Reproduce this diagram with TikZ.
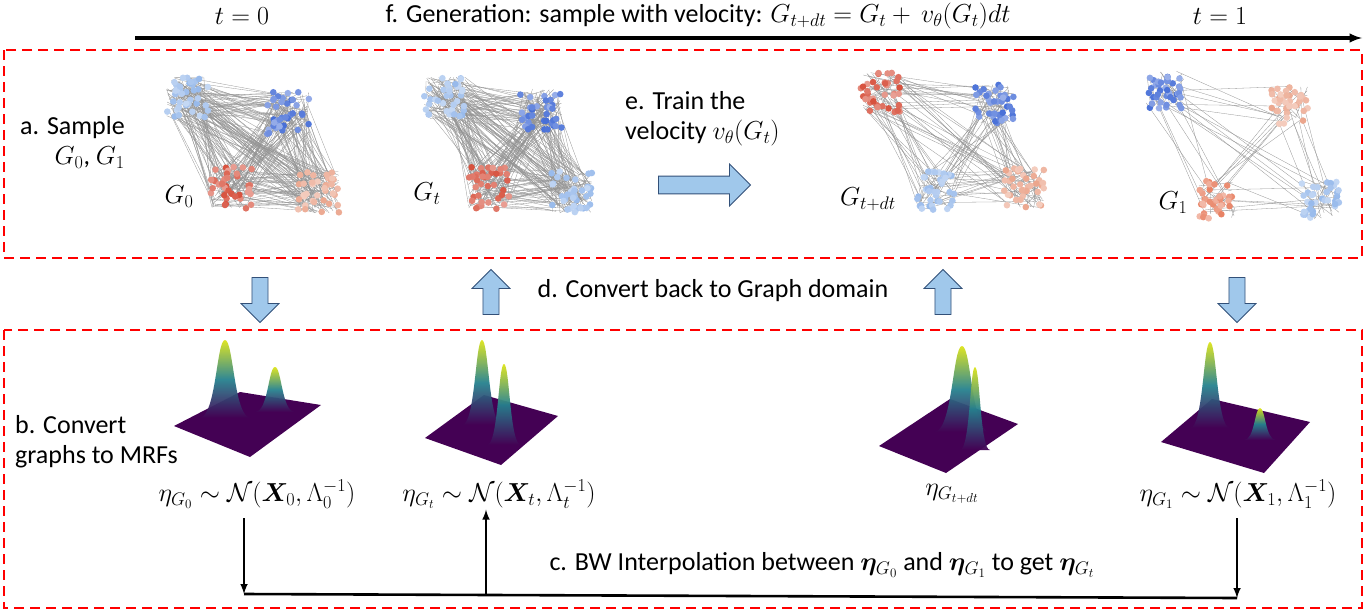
\RequirePackage{fix-cm}
\documentclass[tikz,border=0pt]{standalone}
\usepackage{fontspec}
\setmainfont{Carlito}
\usepackage{amsmath,bm}
\usetikzlibrary{shapes.arrows}
\definecolor{cblue}{RGB}{70,110,215}
\definecolor{lblue}{RGB}{150,185,235}
\definecolor{cred}{RGB}{215,80,60}
\definecolor{peach}{RGB}{235,165,140}
\definecolor{salmon}{RGB}{232,130,100}
\definecolor{arrfill}{RGB}{160,200,235}
\definecolor{arrdraw}{RGB}{50,80,120}
\definecolor{vpurple}{RGB}{68,1,84}
\definecolor{vteal}{RGB}{38,130,142}
\definecolor{vyellow}{RGB}{220,227,25}
\tikzset{
  edge/.style={gray!85, line width=0.3pt},
  redbox/.style={red, line width=1.8pt, dash pattern=on 10pt off 6pt},
  blk/.style={single arrow, draw=arrdraw, fill=arrfill, line width=0.8pt, minimum height=45pt, minimum width=38pt, single arrow head extend=6pt, inner sep=4pt},
  lab/.style={font=\fontsize{26}{30}\selectfont, inner sep=1pt},
  conn/.style={line width=2.4pt, -latex},
}
% #1 list of x/y/color, #2 edges per pair, #3 spread
\newcommand\mygraph[3]{%
  \foreach \ax/\ay/\ac in {#1}{
    \foreach \bx/\by/\bc in {#1}{
      \foreach \k in {1,...,#2}{
        \draw[edge] ({\ax+#3*rand},{\ay+#3*rand}) -- ({\bx+#3*rand},{\by+#3*rand});
      }}
    \foreach \k in {1,...,12}{
      \draw[edge] ({\ax+#3*rand},{\ay+#3*rand}) -- ({\ax+#3*rand},{\ay+#3*rand});}}
  \foreach \ax/\ay/\ac in {#1}{
    \foreach \k in {1,...,38}{
      \pgfmathtruncatemacro\pc{55+45*rnd}
      \fill[\ac!\pc!white] ({\ax+#3*rand},{\ay+#3*rand}) circle (3.3pt);
    }}}
\newcommand\peak[4]{% x, base y, height, half width
  \shade[top color=vyellow, bottom color=vpurple, middle color=vteal, opacity=0.95]
    ({#1-#4},#2) .. controls ({#1-#4/3},#2) and ({#1-#4/3},{#2-#3}) .. (#1,{#2-#3})
    .. controls ({#1+#4/3},{#2-#3}) and ({#1+#4/3},#2) .. ({#1+#4},#2) -- cycle;}
\begin{document}
\begin{tikzpicture}[x=1pt,y=-1pt]
\useasboundingbox (0,0) rectangle (1367,613);
\pgfmathsetseed{7}
% top arrow
\coordinate (ts) at (135,38); \coordinate (te) at (1362,38);
\draw[line width=3.2pt,-latex] (ts) -- (te);
\node[lab] (t0) at (242,16) {$t=0$};
\node[lab] (t1) at (1220,16) {$t=1$};
\node[lab] (f) at (698,16) {f. Generation: sample with velocity: $G_{t+dt}=G_t+\,v_\theta(G_t)dt$};
% boxes
\draw[redbox] (4,50) rectangle (1362,258);
\draw[redbox] (4,330) rectangle (1362,608);
% graphs
\mygraph{187/98/lblue, 288/113/cblue, 231/188/cred, 318/192/peach}{20}{21}
\mygraph{445/98/lblue, 541/110/cblue, 488/188/cred, 571/192/lblue}{20}{21}
\mygraph{880/92/cred, 994/104/cblue, 937/190/lblue, 1024/188/peach}{8}{20}
\mygraph{1165/90/cblue, 1289/105/peach, 1217/200/salmon, 1320/200/lblue}{3}{19}
\node[lab] (g0) at (179,197) {$G_0$};
\node[lab] (gt) at (427,194) {$G_t$};
\node[lab] (gtd) at (868,199) {$G_{t+dt}$};
\node[lab] (g1) at (1173,203) {$G_1$};
\node[lab,align=right,anchor=north east] (a) at (126,115) {a. Sample\\$G_0$, $G_1$};
\node[lab,align=left,anchor=north west] (e) at (624,90) {e. Train the\\velocity $v_\theta(G_t)$};
\node[blk, minimum height=92pt, minimum width=42pt] (bigarr) at (700,185) {};
% small block arrows
\node[blk, shape border rotate=270] (ad1) at (260,296) {};
\node[blk, shape border rotate=90] (au1) at (491,296) {};
\node[blk, shape border rotate=90] (au2) at (943,296) {};
\node[blk, shape border rotate=270] (ad2) at (1237,296) {};
\node[lab] (d) at (713,291) {d. Convert back to Graph domain};
\node[lab,align=left,anchor=west] (b) at (14,442) {b. Convert\\graphs to MRFs};
% surfaces
\fill[vpurple] (174,426) -- (240,392) -- (321,405) -- (250,457) -- cycle;
\peak{225}{418}{78}{26}
\peak{275}{412}{45}{20}
\fill[vpurple] (425,438) -- (484,395) -- (558,416) -- (501,465) -- cycle;
\peak{482}{425}{85}{20}
\peak{504}{445}{81}{17}
\fill[vpurple] (879,446) -- (950,399) -- (1018,424) -- (946,473) -- cycle;
\peak{962}{432}{86}{28}
\peak{975}{450}{83}{15}
\fill[vpurple] (1161,442) -- (1212,399) -- (1310,422) -- (1264,473) -- cycle;
\peak{1210}{428}{86}{20}
\peak{1260}{440}{32}{16}
% formulas
\node[lab] (e0) at (257,494) {$\eta_{G_0}\sim\mathcal N(\bm X_0,\Lambda_0^{-1})$};
\node[lab] (et) at (499,494) {$\eta_{G_t}\sim\mathcal N(\bm X_t,\Lambda_t^{-1})$};
\node[lab] (etd) at (952,494) {$\eta_{G_{t+dt}}$};
\node[lab] (e1) at (1238,494) {$\eta_{G_1}\sim\mathcal N(\bm X_1,\Lambda_1^{-1})$};
\node[lab] (c) at (822,565) {c. BW Interpolation between $\bm\eta_{G_0}$ and $\bm\eta_{G_1}$ to get $\bm\eta_{G_t}$};
% connectors
\coordinate (p0) at (244,594); \coordinate (pt) at (486,595); \coordinate (p1) at (1237,598);
\draw[line width=2.6pt] (p0) -- (p1);
\draw[conn] (244,518) -- (p0);
\draw[conn] (pt) -- (et.south -| pt);
\draw[conn] (1237,518) -- (p1);
\end{tikzpicture}
\end{document}
